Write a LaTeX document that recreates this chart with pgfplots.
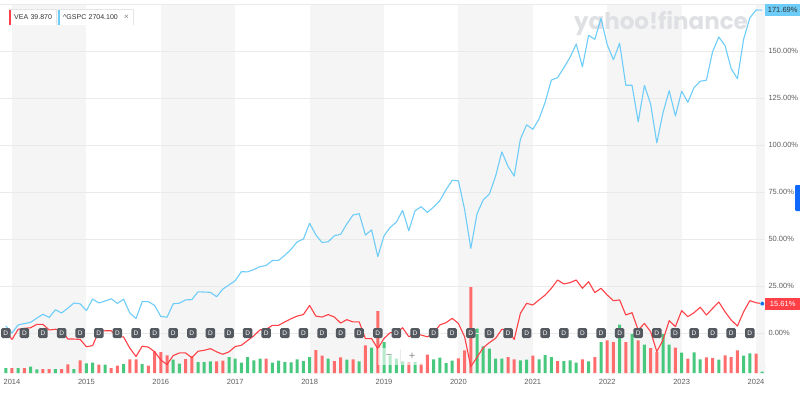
\documentclass[border=0pt]{standalone}
\usepackage{pgfplots}
\pgfplotsset{compat=1.18}
\usepackage{pgfplotstable}
\usepackage{fontspec}
\setmainfont{Liberation Sans}
\newfontfamily\wmfont{Poppins}

\definecolor{spblue}{RGB}{110,205,248}
\definecolor{veared}{RGB}{255,64,70}
\definecolor{volgreen}{RGB}{72,200,125}
\definecolor{volred}{RGB}{255,108,108}
\definecolor{bandc}{RGB}{245,245,245}
\definecolor{gridc}{RGB}{234,234,234}
\definecolor{dbox}{RGB}{84,88,95}
\definecolor{lbl}{RGB}{95,95,95}
\definecolor{wmc}{RGB}{222,224,228}
\definecolor{tabblue}{RGB}{15,105,255}
\definecolor{dotblue}{RGB}{20,110,230}
\definecolor{volbox}{RGB}{200,204,210}

\pgfplotstableread{
k pct
0 3.69
1 0.00
2 4.31
3 5.03
4 5.69
5 7.91
6 9.97
7 8.31
8 12.39
9 10.64
10 13.21
11 15.99
12 15.50
13 11.92
14 18.06
15 16.00
16 16.99
17 18.22
18 15.74
19 18.02
20 10.64
21 7.71
22 16.65
23 16.71
24 14.66
25 8.84
26 8.39
27 15.55
28 15.86
29 17.64
30 17.74
31 21.93
32 21.79
33 21.64
34 19.27
35 23.35
36 25.59
37 27.84
38 32.60
39 32.54
40 33.75
41 35.30
42 35.95
43 38.58
44 38.66
45 41.33
46 44.47
47 48.52
48 49.98
49 58.41
50 52.24
51 48.15
52 48.55
53 51.76
54 52.50
55 57.99
56 62.77
57 63.47
58 52.12
59 54.84
60 40.63
61 51.69
62 56.20
63 59.00
64 65.26
65 54.39
66 65.03
67 67.19
68 64.17
69 66.99
70 70.40
71 76.20
72 81.24
73 80.95
74 65.73
75 44.99
76 63.38
77 70.78
78 73.92
79 83.50
80 96.36
81 88.66
82 83.44
83 103.17
84 110.71
85 108.36
86 113.80
87 122.87
88 134.56
89 135.84
90 141.08
91 146.57
92 153.71
93 141.64
94 158.35
95 156.20
96 167.37
97 153.31
98 145.37
99 154.15
100 131.79
101 131.80
102 112.35
103 131.70
104 121.87
105 101.15
106 117.21
107 128.89
108 115.39
109 128.69
110 122.72
111 130.52
112 133.90
113 134.48
114 149.66
115 157.43
116 152.87
117 140.55
118 135.26
119 156.24
120 167.58
121 171.83
122 171.69
}\spdata

\pgfplotstableread{
k pct
0 0.5
1 -3.4
2 2.0
3 2.5
4 2.8
5 4.6
6 4.6
7 1.6
8 2.0
9 1.6
10 -3.2
11 -3.2
12 -3.4
13 -7.3
14 -6.7
15 0.9
16 1.2
17 1.2
18 -2.0
19 -2.1
20 -8.0
21 -12.5
22 -7.0
23 -7.5
24 -10.0
25 -14.3
26 -16.8
27 -12.0
28 -10.6
29 -10.6
30 -13.1
31 -9.7
32 -9.2
33 -8.3
34 -10.0
35 -11.3
36 -10.0
37 -7.2
38 -6.5
39 -4.0
40 -1.5
41 1.7
42 2.0
43 4.1
44 4.1
45 5.9
46 7.6
47 9.0
48 9.8
49 14.7
50 9.0
51 8.5
52 9.8
53 8.5
54 5.3
55 7.1
56 5.9
57 5.9
58 -3.0
59 -3.0
60 -8.3
61 -2.9
62 0.2
63 0.2
64 2.8
65 -2.0
66 -0.2
67 -1.1
68 -2.0
69 -0.2
70 4.3
71 5.5
72 7.8
73 5.1
74 -2.0
75 -17.9
76 -12.9
77 -7.8
78 -5.1
79 -2.8
80 2.0
81 1.6
82 -3.4
83 10.5
84 15.8
85 14.9
86 17.6
87 20.2
88 23.8
89 28.2
90 26.1
91 26.8
92 28.2
93 23.8
94 27.3
95 21.5
96 23.8
97 20.2
98 17.2
99 17.6
100 9.6
101 10.8
102 1.6
103 5.1
104 0.7
105 -9.9
106 -3.7
107 6.6
108 3.4
109 11.9
110 8.7
111 10.8
112 13.7
113 9.6
114 13.1
115 16.5
116 11.3
117 6.9
118 3.7
119 11.3
120 17.2
121 16.1
122 15.61
}\veadata

\pgfplotstableread{
k vol
0 90
2 90
4 113
5 67
8 72
11 72
13 175
14 185
16 149
19 162
22 162
27 239
28 167
31 198
32 198
33 211
36 288
37 257
38 185
39 288
40 229
41 257
43 185
44 221
45 198
46 193
47 247
48 216
49 288
52 257
55 239
57 211
59 455
61 558
62 319
63 257
64 211
66 198
69 247
70 275
71 180
72 221
76 797
77 481
78 437
79 257
80 257
83 229
84 239
86 247
87 324
88 288
90 216
91 229
92 185
94 211
96 558
99 869
101 707
103 509
106 720
107 509
109 365
111 373
112 247
115 239
119 311
120 355
122 24.33
}\volgreendata

\pgfplotstableread{
k vol
1 90
3 90
6 72
7 72
9 72
10 157
12 229
15 149
17 90
18 131
20 247
21 247
23 131
24 391
25 378
26 319
29 252
30 301
34 211
35 221
42 257
50 414
51 311
53 216
54 283
56 247
58 499
60 1116
65 198
67 167
68 329
73 265
74 409
75 1548
81 288
82 247
85 311
89 216
93 247
95 288
97 589
98 558
100 558
102 589
104 450
105 378
108 455
110 257
113 283
114 270
116 319
117 288
118 409
121 347
}\volreddata

\pgfplotsset{base/.style={scale only axis, width=765pt, height=370pt,
  at={(0pt,18pt)}, anchor=south west, xmin=-0.935, xmax=122.45}}

\begin{document}
\begin{tikzpicture}
\useasboundingbox (0,0) rectangle (800pt,392pt);
\fill[white] (0,0) rectangle (800pt,392pt);

% volume axis with year bands
\begin{axis}[base, ymin=-18, ymax=6642, hide axis]
\fill[bandc] (axis cs:1,-18) rectangle (axis cs:13,6642);
\fill[bandc] (axis cs:25,-18) rectangle (axis cs:37,6642);
\fill[bandc] (axis cs:49,-18) rectangle (axis cs:61,6642);
\fill[bandc] (axis cs:73,-18) rectangle (axis cs:85,6642);
\fill[bandc] (axis cs:97,-18) rectangle (axis cs:109,6642);
\fill[bandc] (axis cs:121,-18) rectangle (axis cs:122.45,6642);
\addplot[ybar, bar width=3pt, bar shift=0pt, fill=volgreen, draw=none] table[x=k,y=vol] {\volgreendata};
\addplot[ybar, bar width=3pt, bar shift=0pt, fill=volred, draw=none] table[x=k,y=vol] {\volreddata};
\node[fill=volbox, text=black!75, anchor=south west, inner sep=1pt, minimum width=35pt, minimum height=10pt, font=\fontsize{7.5}{8}\selectfont] at (axis cs:122.45,0) {24.33M};
\end{axis}

% watermark
\node[text=wmc, font=\wmfont\bfseries\fontsize{23}{24}\selectfont, inner sep=0pt] at (661pt,369pt) {yahoo!finance};

% main axis
\begin{axis}[base, ymin=-21.8, ymax=175, clip=false,
  axis line style={draw=none}, major tick length=0pt,
  ymajorgrids, grid style={gridc, line width=0.5pt},
  ytick={0,25,50,75,100,125,150},
  yticklabels={0.00\%,25.00\%,50.00\%,75.00\%,100.00\%,125.00\%,150.00\%},
  yticklabel pos=right,
  xtick={1,13,25,37,49,61,73,85,97,109,121},
  xticklabels={2014,2015,2016,2017,2018,2019,2020,2021,2022,2023,2024},
  xticklabel style={yshift=-1.5pt},
  ticklabel style={font=\fontsize{7.5}{9}\selectfont, text=lbl},
  /pgf/number format/assume math mode=true]
\draw[gridc, line width=0.6pt] (axis cs:-0.935,175) -- (axis cs:122.45,175);
\addplot[spblue, line width=1.1pt, line join=round, mark=none] table[x=k,y=pct] {\spdata};
\addplot[veared, line width=1.1pt, line join=round, mark=none] table[x=k,y=pct] {\veadata};
\addplot[draw=none, mark=none, nodes near coords={D},
  every node near coord/.append style={anchor=center, fill=dbox, text=white,
  rounded corners=1.5pt, inner sep=0pt, minimum width=9.5pt, minimum height=10pt,
  font=\fontsize{6.5}{7}\selectfont}]
  coordinates {(0,0) (3,0) (6,0) (9,0) (12,0) (15,0) (18,0) (21,0) (24,0) (27,0)
  (30,0) (33,0) (36,0) (39,0) (42,0) (45,0) (48,0) (51,0) (54,0) (57,0) (60,0)
  (63,0) (66,0) (69,0) (72,0) (75,0) (78,0) (81,0) (84,0) (87,0) (90,0) (93,0)
  (96,0) (99,0) (102,0) (105,0) (108,0) (111,0) (114,0) (117,0) (120,0)};
\addplot[only marks, mark=*, mark size=2.2pt, mark options={fill=dotblue, draw=white, line width=0.3pt}] coordinates {(122,15.61)};
\node[fill=spblue, text=black!80, anchor=west, inner sep=1pt, minimum width=35pt, minimum height=12pt, font=\fontsize{7.5}{8}\selectfont] at (axis cs:122.45,171.69) {171.69\%};
\node[fill=veared, text=white, anchor=west, inner sep=1pt, minimum width=35pt, minimum height=12pt, font=\fontsize{7.5}{8}\selectfont] at (axis cs:122.45,15.61) {15.61\%};
\end{axis}

% right tab
\fill[tabblue, rounded corners=1pt] (795pt,181pt) rectangle (801pt,207pt);

% zoom control
\fill[white, fill opacity=0.6] (378pt,27pt) rectangle (423pt,44pt);
\draw[black!8] (400.5pt,28pt) -- (400.5pt,43pt);
\node[text=black!45, font=\fontsize{11}{12}\selectfont] at (389pt,35.5pt) {\textminus};
\node[text=black!45, font=\fontsize{11}{12}\selectfont] at (412pt,35.5pt) {+};

% legend boxes
\fill[black!10] (8.5pt,366.5pt) rectangle (56.5pt,382.5pt);
\fill[white] (9pt,367pt) rectangle (56pt,382pt);
\fill[veared] (9pt,367pt) rectangle (11pt,382pt);
\node[anchor=west, inner sep=0pt, text=black!80, font=\fontsize{7}{8}\selectfont] at (14pt,374.5pt) {VEA\,\,39.870};
\fill[black!10] (57.5pt,366.5pt) rectangle (133.5pt,382.5pt);
\fill[white] (58pt,367pt) rectangle (133pt,382pt);
\fill[spblue] (58pt,367pt) rectangle (60pt,382pt);
\node[anchor=west, inner sep=0pt, text=black!80, font=\fontsize{7}{8}\selectfont] at (63pt,374.5pt) {\textasciicircum GSPC\,\,2704.100};
\node[anchor=center, inner sep=0pt, text=black!50, font=\fontsize{8}{8}\selectfont] at (126.5pt,374.5pt) {×};
\end{tikzpicture}
\end{document}
